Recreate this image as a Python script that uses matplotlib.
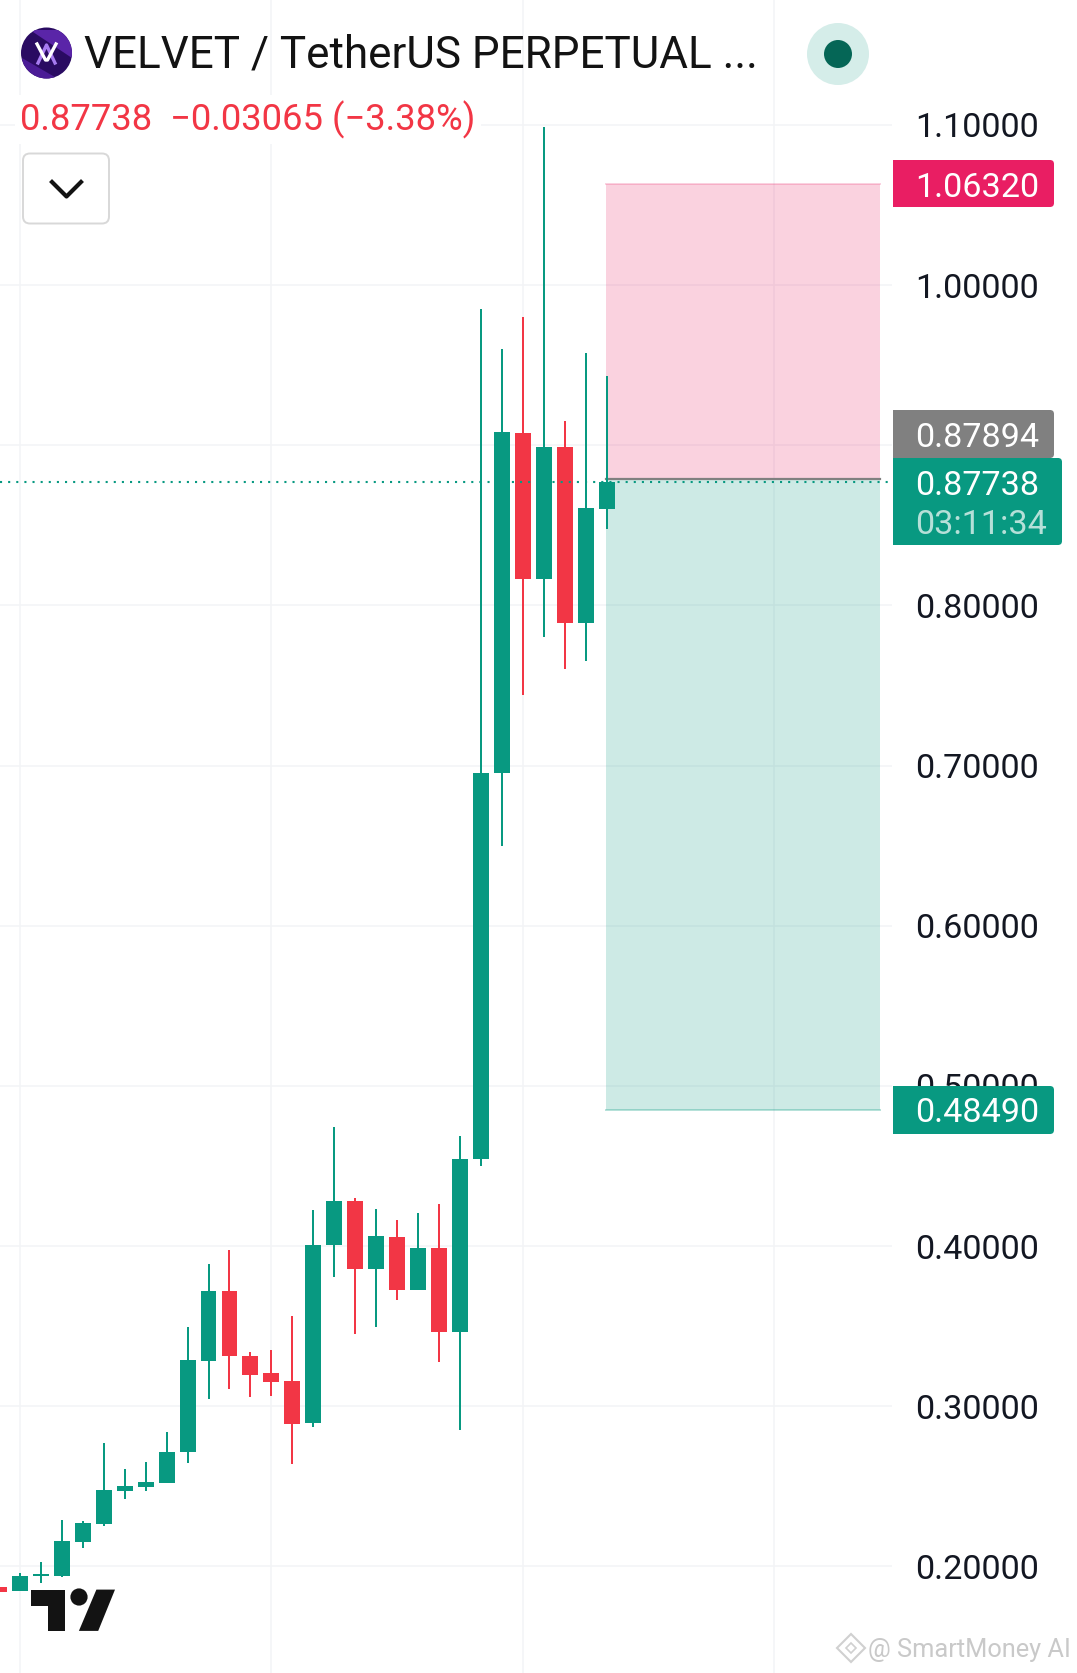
import matplotlib
matplotlib.use("Agg")
import matplotlib.pyplot as plt
from matplotlib.patches import FancyBboxPatch, Polygon, Circle, Rectangle

plt.rcParams['font.family'] = ['Roboto', 'DejaVu Sans']

W, H = 1077, 1673
GREEN = '#089981'
RED = '#F23645'
PINK = '#E91E63'
INK = '#131722'

# candles: index, open, close, high, low (red when close < open)
idx = list(range(-1, 29))
opens = [.1873, .1845, .1943, .1943, .2155, .2266, .2473, .2498, .2523, .2717,
         .3283, .3722, .3317, .3206, .3156, .2896, .4005, .4282, .3857, .4059,
         .3725, .3991, .3463, .4542, .6952, .9079, .8163, .8991, .7889, .8604]
closes = [.1843, .1941, .1954, .2159, .2271, .2478, .2503, .2528, .2714, .3288,
          .3722, .3313, .3195, .3151, .2890, .4009, .4282, .3857, .4066, .3725,
          .3991, .3463, .4544, .6956, .9085, .8163, .8991, .7889, .8609, .87738]
highs = [.1891, .1961, .2030, .2291, .2284, .2769, .2608, .2651, .2837, .3493,
         .3891, .3973, .3336, .3349, .3561, .4228, .4744, .4303, .4232, .4164,
         .4209, .4264, .4687, .9849, .9601, .9803, 1.0987, .9154, .9578, .9433]
lows = [.1811, .1845, .1895, .1936, .2116, .2250, .2421, .2471, .2523, .2646,
        .3044, .3106, .3056, .3063, .2639, .2871, .3809, .3454, .3493, .3666,
        .3725, .3274, .2851, .4501, .6500, .7441, .7805, .7605, .7655, .8479]

price_ticks = [0.2, 0.3, 0.4, 0.5, 0.6, 0.7, 0.8, 0.9, 1.0, 1.1]
shown_ticks = {0.2, 0.3, 0.4, 0.5, 0.6, 0.7, 0.8, 1.0, 1.1}
time_grid = [0, 12, 24, 36]

target, entry, stop = 1.0632, 0.87894, 0.4849
last = 0.87738
pos_left, pos_right = 27.96, 41.03

fig = plt.figure(figsize=(W / 100, H / 100), dpi=100, facecolor='white')

# price axes, pixel-aligned: x from 0 to 892 px, full height
ax = fig.add_axes([0, 0, 892 / W, 1])
ax.set_xlim(-0.949, 41.61)
ax.set_ylim(0.1335, 1.178)
ax.set_facecolor('none')
for s in ax.spines.values():
    s.set_visible(False)
ax.yaxis.tick_right()
ax.set_yticks(price_ticks)
ax.set_yticklabels([f'{t:.5f}' if t in shown_ticks else '' for t in price_ticks],
                   fontsize=24.6, color=INK)
ax.tick_params(axis='y', length=0, pad=16.4)
ax.set_xticks(time_grid)
ax.tick_params(axis='x', length=0, labelbottom=False)
ax.grid(True, color='#F3F4F6', lw=1.1, zorder=0)
ax.set_axisbelow(True)

# long-position box
ax.add_patch(Rectangle((pos_left, entry), pos_right - pos_left, target - entry,
                       facecolor=PINK, alpha=0.2, lw=0, zorder=1))
ax.add_patch(Rectangle((pos_left, stop), pos_right - pos_left, entry - stop,
                       facecolor=GREEN, alpha=0.2, lw=0, zorder=1))
ax.plot([pos_left, pos_right], [target, target], color=PINK, alpha=0.2, lw=1.4, zorder=1)
ax.plot([pos_left, pos_right], [stop, stop], color=GREEN, alpha=0.3, lw=1.4, zorder=1)
ax.plot([pos_left, pos_right], [entry, entry], color='#808080', lw=1.6, zorder=2)

# candles
colors = [RED if c < o else GREEN for o, c in zip(opens, closes)]
ax.vlines(idx, lows, highs, colors=colors, lw=1.44, zorder=3)
ax.bar(idx, [abs(c - o) for o, c in zip(opens, closes)],
       bottom=[min(o, c) for o, c in zip(opens, closes)],
       width=0.76, color=colors, lw=0, zorder=4)

# last-price line
ax.axhline(last, color=GREEN, lw=1.5, ls=(0, (1, 2.9)), zorder=5)

# overlay in image pixels for the app chrome
ov = fig.add_axes([0, 0, 1, 1], zorder=10)
ov.set_xlim(0, W)
ov.set_ylim(H, 0)
ov.axis('off')
ov.patch.set_alpha(0)

def badge(x0, x1, y0, y1, color):
    ov.add_patch(Rectangle((x0, y0), x1 - x0 - 6, y1 - y0, fc=color, lw=0))
    ov.add_patch(FancyBboxPatch((x0 + 20, y0 + 4), x1 - x0 - 24, y1 - y0 - 8,
                                boxstyle='round,pad=4,rounding_size=4', fc=color, lw=0))

badge(893, 1054, 160, 207, PINK)
ov.text(915, 184, f'{target:.5f}', color='white', fontsize=24.6, va='center_baseline')
badge(893, 1054, 410, 458, '#808080')
ov.text(915, 434, f'{entry:.5f}', color='white', fontsize=24.6, va='center_baseline')
badge(893, 1062, 458, 545, GREEN)
ov.text(915, 482, f'{last:.5f}', color='white', fontsize=24.6, va='center_baseline')
ov.text(915, 522, '03:11:34', color='#B5E0D8', fontsize=24.6, va='center_baseline')
badge(893, 1054, 1086, 1134, GREEN)
ov.text(915, 1110, f'{stop:.5f}', color='white', fontsize=24.6, va='center_baseline')

# header
logo = Circle((46.5, 53), 25.5, fc='#2A0B62', lw=0)
ov.add_patch(logo)
for pts, col in [([(30, 30), (75, 30), (75, 60)], '#5A25A8'),
                 ([(22, 58), (60, 80), (25, 80)], '#4B1C96')]:
    band = Polygon(pts, fc=col, lw=0)
    ov.add_patch(band)
    band.set_clip_path(logo)
ov.plot([38, 46.5, 55], [63, 45, 63], color='#A77BF0', lw=2.4)
ov.plot([37, 45.5, 47.5, 56], [44, 60, 60, 44], color='white', lw=2.4)
ov.text(84, 51, 'VELVET / TetherUS PERPETUAL ...', fontsize=31.7, color='#131313', va='center_baseline')
ov.text(20, 115.5, '0.87738  \u22120.03065 (\u22123.38%)', fontsize=26.2, color=RED, va='center_baseline',
        bbox=dict(fc='white', ec='none', pad=4))
ov.add_patch(Circle((838, 54), 31, fc='#D5EDE9', lw=0))
ov.add_patch(Circle((838, 54), 14, fc='#056656', lw=0))

# collapse button
ov.add_patch(FancyBboxPatch((23, 153.5), 86, 70, boxstyle='round,pad=0,rounding_size=7',
                            fc='white', ec='#D8D8D8', lw=1.4))
ov.plot([52, 66.5, 81], [182, 196.5, 182], color='#131313', lw=3)

# TradingView mark
ov.add_patch(Polygon([(31.4, 1589.6), (65, 1589.6), (65, 1630.9), (47.9, 1630.9),
                      (47.9, 1606), (31.4, 1606)], fc='#131313', lw=0))
ov.add_patch(Circle((79, 1597), 8.6, fc='#131313', lw=0))
ov.add_patch(Polygon([(96.4, 1589.6), (115, 1589.6), (98.2, 1630.9), (78.9, 1630.9)],
                     fc='#131313', lw=0))

# watermark
ov.plot([851], [1648], marker='D', ms=14, mfc='none', mec='#D0D0D0', mew=1.5)
ov.plot([851], [1648], marker='D', ms=5, mfc='none', mec='#D0D0D0', mew=1.2)
ov.text(868, 1648, '@ SmartMoney AI', fontsize=18.3, color='#C9C9C9', va='center_baseline')

fig.savefig('out.png', dpi=100, facecolor='white')
